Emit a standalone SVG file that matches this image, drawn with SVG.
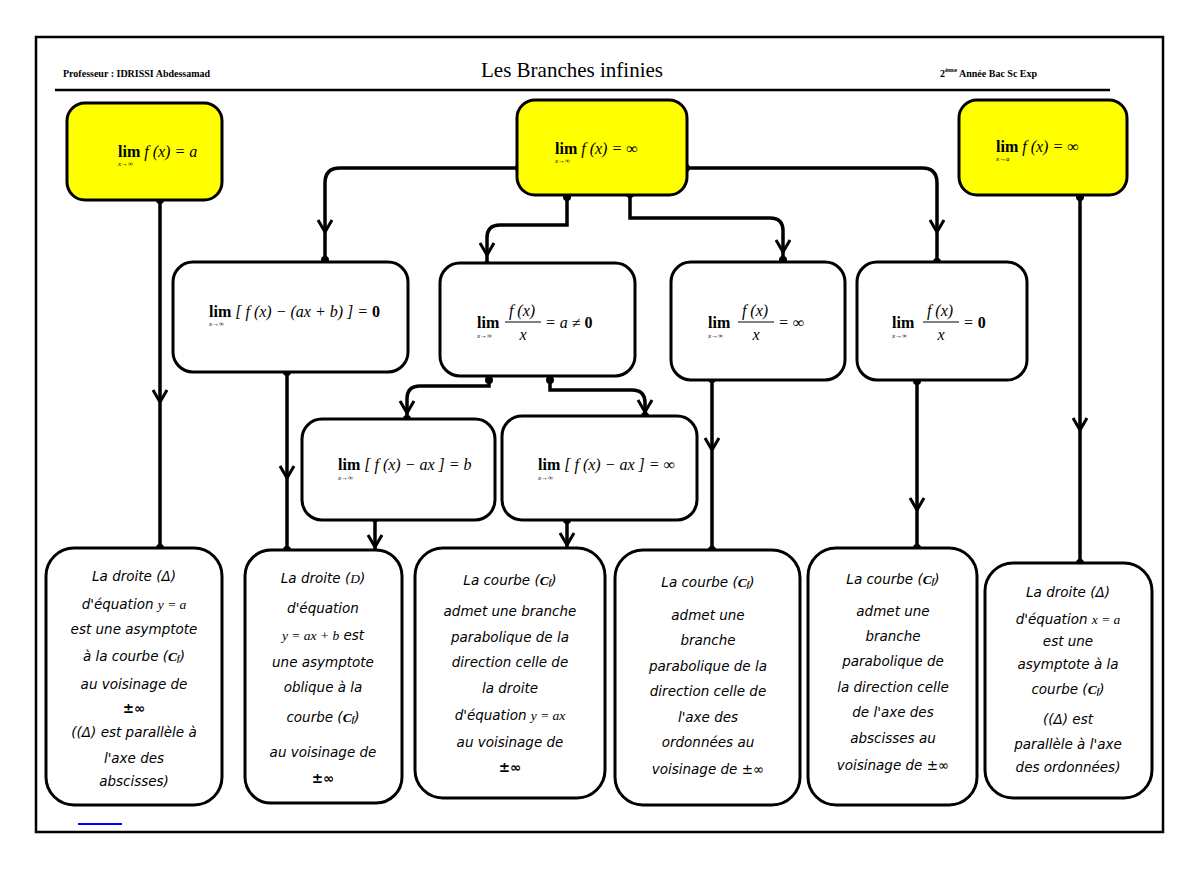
<svg xmlns="http://www.w3.org/2000/svg" width="1200" height="869" viewBox="0 0 1200 869">
<style>
.box{fill:#fff;stroke:#000;stroke-width:3}
.yel{fill:#ffff00;stroke:#000;stroke-width:3}
.m{font-family:"Liberation Serif",serif;font-size:16px;font-style:italic;fill:#000}
.lim{font-family:"Liberation Serif",serif;font-size:16px;font-weight:bold;font-style:normal}
.sub{font-family:"Liberation Serif",serif;font-size:7px;font-style:italic}
.t{font-family:"DejaVu Sans",sans-serif;font-size:13.5px;font-style:italic;text-anchor:middle;fill:#000}
.cf{font-family:"Liberation Serif",serif;font-weight:bold;font-style:italic}
.c line,.c path{fill:none;stroke:#000;stroke-width:3.5}
.c circle{fill:#000}
.hd{font-family:"Liberation Serif",serif;font-weight:bold;fill:#000}
</style>
<defs>
<path id="ar" d="M-7,-12 L0,0 L7,-12" fill="none" stroke="#000" stroke-width="3"/>
</defs>
<rect x="0" y="0" width="1200" height="869" fill="#fff"/>
<rect x="36" y="37" width="1127" height="795" fill="none" stroke="#000" stroke-width="2.5"/>
<g id="header">
<text class="hd" x="63" y="77" font-size="10">Professeur : IDRISSI Abdessamad</text>
<text x="572" y="77" font-family="Liberation Serif,serif" font-size="21" text-anchor="middle">Les Branches infinies</text>
<text class="hd" x="940" y="77" font-size="10">2<tspan font-size="7" dy="-5">ème</tspan><tspan dy="5"> Année Bac Sc Exp</tspan></text>
<line x1="55" y1="90" x2="1110" y2="90" stroke="#000" stroke-width="2.5"/>
</g>
<g class="c" id="connectors">
<line x1="160" y1="200" x2="160" y2="548"/><circle cx="160" cy="200" r="4"/><circle cx="160" cy="548" r="4"/><use href="#ar" x="160" y="402"/>
<path d="M519,168 H340 Q325,168 325,183 V262"/><circle cx="519" cy="168" r="4"/><circle cx="325" cy="260" r="4"/><use href="#ar" x="325" y="232"/>
<path d="M567,197 V225 H500 Q487,225 487,238 V265"/><circle cx="567" cy="197" r="4"/><circle cx="487" cy="265" r="4"/><use href="#ar" x="487" y="255"/>
<path d="M630,194 V218 H770 Q783,218 783,231 V260"/><circle cx="630" cy="194" r="4"/><circle cx="783" cy="260" r="4"/><use href="#ar" x="783" y="252"/>
<path d="M686,168 H922 Q937,168 937,183 V262"/><circle cx="686" cy="168" r="4"/><circle cx="937" cy="262" r="4"/><use href="#ar" x="937" y="232"/>
<line x1="1080" y1="197" x2="1080" y2="563"/><circle cx="1080" cy="197" r="4"/><circle cx="1080" cy="563" r="4"/><use href="#ar" x="1080" y="430"/>
<line x1="287" y1="372" x2="287" y2="550"/><circle cx="287" cy="372" r="4"/><circle cx="287" cy="550" r="4"/><use href="#ar" x="287" y="478"/>
<path d="M489,380 V386 H420 Q407,386 407,399 V419"/><circle cx="489" cy="380" r="4"/><circle cx="407" cy="419" r="4"/><use href="#ar" x="407" y="413"/>
<path d="M550,380 V390 H632 Q645,390 645,403 V416"/><circle cx="550" cy="380" r="4"/><circle cx="645" cy="416" r="4"/><use href="#ar" x="645" y="412"/>
<line x1="375" y1="518" x2="375" y2="550"/><circle cx="375" cy="518" r="4"/><use href="#ar" x="375" y="547"/>
<line x1="567" y1="520" x2="567" y2="548"/><circle cx="567" cy="520" r="4"/><use href="#ar" x="567" y="545"/>
<line x1="712" y1="379" x2="712" y2="550"/><circle cx="712" cy="379" r="4"/><circle cx="712" cy="550" r="4"/><use href="#ar" x="712" y="450"/>
<line x1="917" y1="381" x2="917" y2="548"/><circle cx="917" cy="381" r="4"/><circle cx="917" cy="548" r="4"/><use href="#ar" x="917" y="510"/>
</g>
<g id="b1"><rect class="yel" x="67" y="103" width="155" height="97" rx="18"/>
<text class="m" x="118" y="157"><tspan class="lim">lim</tspan> f (x) = a</text><text class="sub" x="118" y="166">x→∞</text></g>
<g id="b2"><rect class="yel" x="517" y="100" width="170" height="95" rx="18"/>
<text class="m" x="555" y="154"><tspan class="lim">lim</tspan> f (x) = <tspan font-style="normal" font-weight="bold">∞</tspan></text><text class="sub" x="555" y="163">x→∞</text></g>
<g id="b3"><rect class="yel" x="959" y="100" width="168" height="95" rx="18"/>
<text class="m" x="996" y="152"><tspan class="lim">lim</tspan> f (x) = <tspan font-style="normal" font-weight="bold">∞</tspan></text><text class="sub" x="996" y="161">x→a</text></g>
<g id="c1"><rect class="box" x="173" y="262" width="235" height="110" rx="20"/>
<text class="m" x="209" y="317"><tspan class="lim">lim</tspan> [ f (x) − (ax + b) ] = <tspan font-style="normal" font-weight="bold">0</tspan></text><text class="sub" x="209" y="326">x→∞</text></g>
<g id="c2"><rect class="box" x="440" y="263" width="195" height="113" rx="20"/>
<text class="m" x="477" y="328"><tspan class="lim">lim</tspan></text><text class="sub" x="477" y="338">x→∞</text>
<text class="m" x="522" y="316" text-anchor="middle">f (x)</text><line x1="505" y1="322" x2="541" y2="322" stroke="#000" stroke-width="1"/><text class="m" x="523" y="340" text-anchor="middle">x</text>
<text class="m" x="545" y="328">= a ≠ <tspan font-style="normal" font-weight="bold">0</tspan></text></g>
<g id="c3"><rect class="box" x="671" y="262" width="174" height="118" rx="20"/>
<text class="m" x="708" y="328"><tspan class="lim">lim</tspan></text><text class="sub" x="708" y="338">x→∞</text>
<text class="m" x="755" y="316" text-anchor="middle">f (x)</text><line x1="738" y1="322" x2="774" y2="322" stroke="#000" stroke-width="1"/><text class="m" x="756" y="340" text-anchor="middle">x</text>
<text class="m" x="778" y="328">= <tspan font-style="normal" font-weight="bold">∞</tspan></text></g>
<g id="c4"><rect class="box" x="857" y="262" width="170" height="118" rx="20"/>
<text class="m" x="892" y="328"><tspan class="lim">lim</tspan></text><text class="sub" x="892" y="338">x→∞</text>
<text class="m" x="940" y="316" text-anchor="middle">f (x)</text><line x1="923" y1="322" x2="959" y2="322" stroke="#000" stroke-width="1"/><text class="m" x="941" y="340" text-anchor="middle">x</text>
<text class="m" x="963" y="328">= <tspan font-style="normal" font-weight="bold">0</tspan></text></g>
<g id="d1"><rect class="box" x="302" y="419" width="193" height="101" rx="20"/>
<text class="m" x="338" y="470"><tspan class="lim">lim</tspan> [ f (x) − ax ] = b</text><text class="sub" x="338" y="480">x→∞</text></g>
<g id="d2"><rect class="box" x="502" y="416" width="195" height="104" rx="20"/>
<text class="m" x="538" y="470"><tspan class="lim">lim</tspan> [ f (x) − ax ] = <tspan font-style="normal" font-weight="bold">∞</tspan></text><text class="sub" x="538" y="480">x→∞</text></g>
<g id="e1"><rect class="box" x="46" y="548" width="176" height="257" rx="28"/>
<text class="t"><tspan x="134" y="581">La droite (Δ)</tspan><tspan x="134" y="609">d'équation  <tspan font-family="Liberation Serif,serif">y = a</tspan></tspan><tspan x="134" y="634">est une asymptote</tspan><tspan x="134" y="661">à la courbe (<tspan class="cf">C</tspan><tspan class="cf" font-size="8">f</tspan>)</tspan><tspan x="134" y="689">au voisinage de</tspan><tspan x="134" y="713" font-style="normal" font-weight="bold">±∞</tspan><tspan x="134" y="737">((Δ) est parallèle à</tspan><tspan x="134" y="763">l'axe des</tspan><tspan x="134" y="786">abscisses)</tspan></text></g>
<g id="e2"><rect class="box" x="245" y="550" width="157" height="253" rx="26"/>
<text class="t"><tspan x="323" y="583">La droite (<tspan font-family="Liberation Serif,serif">D</tspan>)</tspan><tspan x="323" y="613">d'équation</tspan><tspan x="323" y="640"><tspan font-family="Liberation Serif,serif">y = ax + b</tspan>  est</tspan><tspan x="323" y="667">une asymptote</tspan><tspan x="323" y="692">oblique à la</tspan><tspan x="323" y="722">courbe (<tspan class="cf">C</tspan><tspan class="cf" font-size="8">f</tspan>)</tspan><tspan x="323" y="757">au voisinage de</tspan><tspan x="323" y="783" font-style="normal" font-weight="bold">±∞</tspan></text></g>
<g id="e3"><rect class="box" x="415" y="548" width="190" height="250" rx="28"/>
<text class="t"><tspan x="510" y="585">La courbe (<tspan class="cf">C</tspan><tspan class="cf" font-size="8">f</tspan>)</tspan><tspan x="510" y="616">admet une branche</tspan><tspan x="510" y="642">parabolique de la</tspan><tspan x="510" y="667">direction celle de</tspan><tspan x="510" y="693">la droite</tspan><tspan x="510" y="720">d'équation  <tspan font-family="Liberation Serif,serif">y = ax</tspan></tspan><tspan x="510" y="747">au voisinage de</tspan><tspan x="510" y="772" font-style="normal" font-weight="bold">±∞</tspan></text></g>
<g id="e4"><rect class="box" x="615" y="550" width="185" height="255" rx="28"/>
<text class="t"><tspan x="708" y="587">La courbe (<tspan class="cf">C</tspan><tspan class="cf" font-size="8">f</tspan>)</tspan><tspan x="708" y="620">admet une</tspan><tspan x="708" y="645">branche</tspan><tspan x="708" y="671">parabolique de la</tspan><tspan x="708" y="696">direction celle de</tspan><tspan x="708" y="722">l'axe des</tspan><tspan x="708" y="747">ordonnées au</tspan><tspan x="708" y="774">voisinage de ±∞</tspan></text></g>
<g id="e5"><rect class="box" x="808" y="548" width="169" height="257" rx="28"/>
<text class="t"><tspan x="893" y="584">La courbe (<tspan class="cf">C</tspan><tspan class="cf" font-size="8">f</tspan>)</tspan><tspan x="893" y="616">admet une</tspan><tspan x="893" y="641">branche</tspan><tspan x="893" y="666">parabolique de</tspan><tspan x="893" y="692">la direction celle</tspan><tspan x="893" y="717">de l'axe des</tspan><tspan x="893" y="743">abscisses au</tspan><tspan x="893" y="770">voisinage de ±∞</tspan></text></g>
<g id="e6"><rect class="box" x="985" y="563" width="167" height="235" rx="28"/>
<text class="t"><tspan x="1068" y="597">La droite (Δ)</tspan><tspan x="1068" y="624">d'équation  <tspan font-family="Liberation Serif,serif">x = a</tspan></tspan><tspan x="1068" y="646">est une</tspan><tspan x="1068" y="669">asymptote à la</tspan><tspan x="1068" y="694">courbe (<tspan class="cf">C</tspan><tspan class="cf" font-size="8">f</tspan>)</tspan><tspan x="1068" y="724">((Δ) est</tspan><tspan x="1068" y="749">parallèle à l'axe</tspan><tspan x="1068" y="772">des ordonnées)</tspan></text></g>
<line x1="78" y1="824" x2="122" y2="824" stroke="#0000ff" stroke-width="2"/>
</svg>
